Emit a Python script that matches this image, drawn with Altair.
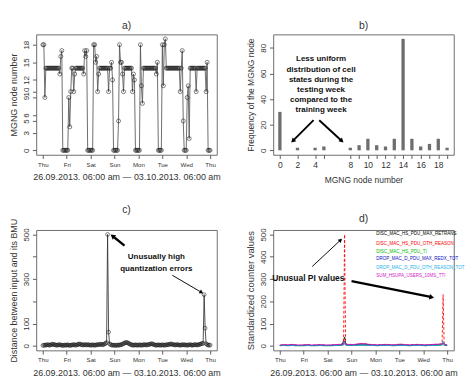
import json, math
import altair as alt
import pandas as pd

FONT = "Liberation Sans"
DAYS = ["Thu", "Fri", "Sat", "Sun", "Mon", "Tue", "Wed", "Thu"]
DAY_TICKS = [0, 24, 48, 72, 96, 120, 144, 168]
DATE_TITLE = "26.09.2013. 06:00 am \u2014 03.10.2013. 06:00 am"
HOURS = list(range(169))
X_DOM = [-6.7, 174.7]
W, H = 192, 128

# a) MGNG node per hour
node_series = [
    18, 18, 9, 14, 14, 14, 14, 14, 14, 14, 14, 14, 14, 14, 14, 14, 14, 13, 16, 17, 0, 0, 0, 0,
    0, 0, 9, 4, 10, 14, 14, 10, 13, 14, 14, 14, 14, 14, 14, 14, 14, 13, 17, 16, 17, 0, 0, 0,
    0, 0, 0, 18, 18, 15, 16, 10, 13, 14, 14, 14, 14, 14, 14, 14, 14, 14, 10, 14, 14, 15, 12, 0,
    0, 0, 0, 0, 5, 18, 15, 15, 13, 10, 14, 14, 14, 14, 14, 14, 14, 14, 10, 13, 12, 0, 0, 0,
    0, 0, 18, 11, 8, 14, 14, 14, 14, 14, 14, 14, 14, 14, 14, 14, 14, 14, 13, 15, 0, 0, 0, 0,
    18, 11, 18, 19, 14, 14, 14, 14, 14, 14, 14, 14, 14, 14, 14, 14, 14, 14, 10, 14, 17, 5, 0, 0,
    0, 9, 11, 2, 14, 14, 14, 14, 14, 14, 10, 14, 14, 14, 14, 14, 14, 14, 14, 14, 10, 15, 0, 0,
    0,
]
A_YTICKS = [0, 3, 5, 6, 9, 10, 12, 15, 18]

# b) frequency of nodes
nodes = [0, 2, 4, 5, 8, 9, 10, 11, 12, 13, 14, 15, 16, 17, 18, 19]
node_freq = [30, 2, 2, 3, 2, 4, 9, 4, 3, 9, 87, 9, 3, 5, 9, 2]
B_LABELS_SHOWN = [0, 2, 4, 8, 10, 12, 14, 16, 18]
B_YTICKS = [0, 20, 40, 60, 80]
B_NOTE = "Less uniform\ndistribution of cell\nstates during the\ntesting week\ncompared to the\ntraining week"
B_NOTE_X, B_NOTE_Y = 4.68, 74.5
B_AR_X1 = [3.83, 4.47]
B_AR_Y1 = [23.5, 23.5]
B_AR_X2 = [1.47, 7.04]
B_AR_Y2 = [7.3, 7.3]
B_AR_W = [2.0, 2.0]

# c) distance to BMU per hour
bmu_dist = [
    2, 3, 4, 3, 5, 6, 4, 3, 5, 7, 8, 6, 5, 4, 3, 4, 5, 6, 4, 3, 2, 3, 4, 3,
    4, 5, 3, 2, 3, 4, 5, 6, 4, 3, 5, 6, 8, 9, 7, 5, 4, 5, 6, 5, 4, 6, 5, 4,
    3, 4, 5, 4, 3, 4, 5, 6, 5, 7, 8, 6, 5, 7, 9, 12, 15, 500, 62, 10, 6, 4, 3, 4,
    3, 2, 3, 4, 3, 4, 5, 6, 8, 10, 13, 15, 16, 14, 12, 9, 7, 5, 4, 3, 4, 5, 4, 3,
    4, 5, 4, 3, 4, 5, 6, 5, 4, 5, 6, 7, 8, 10, 9, 7, 5, 4, 3, 4, 5, 4, 3, 4,
    5, 4, 3, 4, 5, 6, 5, 7, 8, 9, 7, 6, 5, 4, 5, 6, 5, 4, 3, 4, 5, 6, 4, 5,
    4, 3, 4, 5, 6, 4, 3, 4, 5, 6, 5, 4, 5, 6, 8, 9, 11, 12, 230, 80, 10, 6, 4, 3,
    4,
]
C_YTICKS = [0, 100, 200, 300, 400, 500]
C_YLABELS = [0, 100, 300, 500]
C_NOTE = "Unusually high\nquantization errors"
C_NOTE_X, C_NOTE_Y = 114, 418
C_AR_X1 = [82, 130]
C_AR_Y1 = [450, 317]
C_AR_X2 = [70, 159.4]
C_AR_Y2 = [493, 240]
C_AR_W = [2.5, 1.0]

# d) standardized counters
d_hours = [0, 4, 8, 12, 16, 20, 24, 28, 32, 36, 40, 44, 48, 52, 56, 60,
           63, 64, 65, 66, 67,
           70, 74, 78, 82, 86, 90, 94, 98, 102, 106, 110, 114, 118, 122, 126, 130, 134, 138, 142, 146, 150, 154, 158,
           162, 163, 164, 165, 166, 168]
pi_names = ["DISC_MAC_HS_PDU_MAX_RETRANS", "DISC_MAC_HS_PDU_OTH_REASON", "DISC_MAC_HS_PDU_TI",
            "DROP_MAC_D_PDU_MAX_REDX_TOT", "DROP_MAC_D_PDU_OTH_REASON_TOT", "SUM_HSUPA_USERS_10MS_TTI"]
pi_colors = ["#000000", "#ff0000", "#00c000", "#1010c0", "#20b0e8", "#d020c8"]
pi_dash = [[1, 0], [3, 2], [1, 0], [1, 0], [1, 0], [1, 0]]
pi_black = [2, 4, 3, 5, 3, 2, 3, 4, 2, 3, 4, 3, 2, 3, 4, 5, 10, 25, 40, 15, 6,
            5, 4, 7, 9, 8, 5, 4, 3, 4, 5, 4, 3, 5, 6, 4, 3, 4, 5, 4, 3, 4, 5, 6, 8, 12, 16, 10, 6, 3]
pi_red = [3, 5, 4, 6, 4, 3, 4, 5, 3, 4, 5, 4, 3, 4, 5, 6, 8, 10, 500, 12, 8,
          6, 5, 8, 10, 9, 6, 5, 4, 5, 6, 5, 4, 6, 7, 5, 4, 5, 6, 5, 4, 5, 6, 7, 8, 10, 230, 12, 8, 4]
pi_green = [1, 2, 1, 2, 1, 1, 1, 2, 1, 1, 2, 1, 1, 1, 2, 2, 3, 5, 8, 4, 2,
            2, 2, 3, 3, 3, 2, 2, 1, 2, 2, 2, 1, 2, 3, 2, 1, 2, 2, 2, 1, 2, 2, 3, 3, 4, 6, 3, 2, 1]
pi_blue = [2, 3, 2, 3, 2, 2, 2, 3, 2, 2, 3, 2, 2, 2, 3, 3, 5, 12, 20, 8, 4,
           3, 3, 4, 5, 5, 3, 3, 2, 3, 3, 3, 2, 3, 4, 3, 2, 3, 3, 3, 2, 3, 3, 4, 5, 8, 12, 6, 3, 2]
pi_cyan = [1, 2, 1, 2, 1, 1, 1, 2, 1, 1, 2, 1, 1, 1, 2, 2, 4, 8, 15, 6, 3,
           2, 2, 3, 4, 4, 2, 2, 1, 2, 2, 2, 1, 2, 3, 2, 1, 2, 2, 2, 1, 2, 2, 3, 6, 12, 20, 8, 4, 2]
pi_magenta = [3, 6, 5, 7, 5, 4, 5, 6, 4, 5, 6, 5, 4, 5, 6, 7, 6, 8, 10, 8, 6,
              7, 6, 9, 11, 10, 7, 6, 5, 6, 7, 6, 5, 7, 8, 6, 5, 6, 7, 6, 5, 6, 7, 8, 8, 9, 10, 8, 6, 5]
D_YTICKS = [0, 100, 200, 300, 400, 500]
D_NOTE = "Unusual PI values"
D_NOTE_X, D_NOTE_Y = 28.6, 304
D_AR_X1 = [32.4, 72]
D_AR_Y1 = [356, 291]
D_AR_X2 = [61, 152.6]
D_AR_Y2 = [475, 218.5]
D_AR_W = [1.0, 2.5]
D_LEG_X = 96.8
D_LEG_Y = [500, 457, 423, 390, 351, 312]

Y_DOM_AB = {"a": [-0.76, 19.76], "b": [-3.48, 90.48]}
Y_DOM_CD = [-20, 520]
B_X_DOM = [-0.76, 19.76]


def arrows(x1, y1, x2, y2, wid, xdom, ydom, w, h, xf, yf):
    sx = w / (xdom[1] - xdom[0])
    sy = h / (ydom[1] - ydom[0])
    rows = []
    for a, b, c, d, sw in zip(x1, y1, x2, y2, wid):
        dx = (c - a) * sx
        dys = -(d - b) * sy
        ang = math.degrees(math.atan2(dx, -dys)) % 360
        rows.append({xf: a, yf: b, xf + "2": c, yf + "2": d, "sw": sw, "ang": ang, "hs": 14 + 8 * sw})
    return pd.DataFrame(rows)


def arrow_layers(df, xenc, yenc, xf, yf):
    shaft = alt.Chart(df).mark_rule(color="black").encode(
        x=xenc(xf), y=yenc(yf), x2=alt.X2(xf + "2:Q"), y2=alt.Y2(yf + "2:Q"),
        strokeWidth=alt.StrokeWidth("sw:Q", scale=None))
    head = alt.Chart(df).mark_point(shape="triangle-up", filled=True, color="black", opacity=1).encode(
        x=xenc(xf + "2"), y=yenc(yf + "2"),
        angle=alt.Angle("ang:Q", scale=None), size=alt.Size("hs:Q", scale=None))
    return shaft + head


day_expr = json.dumps(DAYS) + "[round(datum.value/24)]"


def time_x(field):
    return alt.X(field + ":Q", scale=alt.Scale(domain=X_DOM, nice=False, zero=False),
                 axis=alt.Axis(values=DAY_TICKS, labelExpr=day_expr, title=DATE_TITLE,
                               labelFontSize=6.5, titleFontSize=9.5, labelOverlap=False,
                               labelPadding=3, titlePadding=5))


# ---------- a ----------
def a_y(field):
    return alt.Y(field + ":Q", scale=alt.Scale(domain=Y_DOM_AB["a"], nice=False, zero=False),
                 axis=alt.Axis(values=A_YTICKS, title="MGNG node number", labelAngle=270,
                               labelOverlap=False, titleFontSize=9.5))


df_a = pd.DataFrame({"hour": HOURS, "node": node_series})
base_a = alt.Chart(df_a).encode(x=time_x("hour"), y=a_y("node"))
a = (base_a.mark_line(color="#555", strokeWidth=0.9)
     + base_a.mark_point(shape="circle", filled=False, color="#111", size=18, strokeWidth=0.8)
     ).properties(width=W, height=H, title="a)")


# ---------- b ----------
def b_x(field):
    return alt.X(field + ":Q", scale=alt.Scale(domain=B_X_DOM, nice=False, zero=False),
                 axis=alt.Axis(values=nodes, title="MGNG node number", labelOverlap=False,
                               labelExpr="indexof(" + json.dumps(B_LABELS_SHOWN) + ", datum.value) >= 0 ? datum.label : ''",
                               labelFontSize=9, titleFontSize=9, labelPadding=3, titlePadding=7))


def b_y(field):
    return alt.Y(field + ":Q", scale=alt.Scale(domain=Y_DOM_AB["b"], nice=False, zero=False),
                 axis=alt.Axis(values=B_YTICKS, title="Frequency of the MGNG node", labelAngle=270,
                               labelOverlap=False, titleFontSize=9))


df_b = pd.DataFrame({"node": nodes, "freq": node_freq})
bars = alt.Chart(df_b).mark_rule(color="#6e6e6e", strokeWidth=3.5, strokeCap="butt").encode(
    x=b_x("node"), y=b_y("freq"), y2=alt.datum(0))
b_note = alt.Chart(pd.DataFrame({"node": [B_NOTE_X], "freq": [B_NOTE_Y], "t": [B_NOTE]})).mark_text(
    lineBreak="\n", fontWeight="bold", fontSize=8.5, lineHeight=10.8, baseline="top", align="center",
    font=FONT, color="#111").encode(x=b_x("node"), y=b_y("freq"), text="t:N")
b_arr = arrow_layers(arrows(B_AR_X1, B_AR_Y1, B_AR_X2, B_AR_Y2, B_AR_W, B_X_DOM, Y_DOM_AB["b"], W, H, "node", "freq"),
                     b_x, b_y, "node", "freq")
b = (bars + b_note + b_arr).properties(width=W, height=H, title="b)")


# ---------- c ----------
def c_y(field):
    return alt.Y(field + ":Q", scale=alt.Scale(domain=Y_DOM_CD, nice=False, zero=False),
                 axis=alt.Axis(values=C_YTICKS, title="Distance between input and its BMU", labelAngle=270,
                               labelOverlap=False, titleFontSize=9.5,
                               labelExpr="indexof(" + json.dumps(C_YLABELS) + ", datum.value) >= 0 ? datum.label : ''"))


df_c = pd.DataFrame({"hour": HOURS, "dist": bmu_dist})
base_c = alt.Chart(df_c).encode(x=time_x("hour"), y=c_y("dist"))
c_note = alt.Chart(pd.DataFrame({"hour": [C_NOTE_X], "dist": [C_NOTE_Y], "t": [C_NOTE]})).mark_text(
    lineBreak="\n", fontWeight="bold", fontSize=8.5, lineHeight=12, baseline="top", align="center",
    font=FONT, color="#111").encode(x=time_x("hour"), y=c_y("dist"), text="t:N")
c_arr = arrow_layers(arrows(C_AR_X1, C_AR_Y1, C_AR_X2, C_AR_Y2, C_AR_W, X_DOM, Y_DOM_CD, W, H, "hour", "dist"),
                     time_x, c_y, "hour", "dist")
c = (base_c.mark_line(color="#333", strokeWidth=0.9)
     + base_c.mark_point(shape="circle", filled=False, color="#111", size=16, strokeWidth=0.8)
     + c_note + c_arr).properties(width=W, height=H, title="c)")


# ---------- d ----------
def d_y(field):
    return alt.Y(field + ":Q", scale=alt.Scale(domain=Y_DOM_CD, nice=False, zero=False),
                 axis=alt.Axis(values=D_YTICKS, title="Standardized counter values", labelAngle=270,
                               labelOverlap=False, titleFontSize=10))


pi_series = [pi_black, pi_red, pi_green, pi_blue, pi_cyan, pi_magenta]
rows = []
for name, vals in zip(pi_names, pi_series):
    for hh, v in zip(d_hours, vals):
        rows.append({"hour": hh, "value": v, "series": name})
df_d = pd.DataFrame(rows)
color_scale = alt.Scale(domain=pi_names, range=pi_colors)
d_lines = alt.Chart(df_d).mark_line(strokeWidth=0.9).encode(
    x=time_x("hour"), y=d_y("value"),
    color=alt.Color("series:N", scale=color_scale, legend=None),
    strokeDash=alt.StrokeDash("series:N", scale=alt.Scale(domain=pi_names, range=pi_dash), legend=None),
    order=alt.Order("hour:Q"))
df_leg = pd.DataFrame({"hour": [D_LEG_X] * len(pi_names), "value": D_LEG_Y, "series": pi_names})
d_leg = alt.Chart(df_leg).mark_text(align="left", baseline="middle", fontSize=4.8, font=FONT).encode(
    x=time_x("hour"), y=d_y("value"), text="series:N",
    color=alt.Color("series:N", scale=color_scale, legend=None))
d_note = alt.Chart(pd.DataFrame({"hour": [D_NOTE_X], "value": [D_NOTE_Y], "t": [D_NOTE]})).mark_text(
    fontWeight="bold", fontSize=9, baseline="middle", align="center", font=FONT, color="#111").encode(
    x=time_x("hour"), y=d_y("value"), text="t:N")
d_arr = arrow_layers(arrows(D_AR_X1, D_AR_Y1, D_AR_X2, D_AR_Y2, D_AR_W, X_DOM, Y_DOM_CD, W, H, "hour", "value"),
                     time_x, d_y, "hour", "value")
d = (d_lines + d_leg + d_note + d_arr).properties(width=W, height=H, title="d)")

chart = alt.concat(a, b, c, d, columns=2, spacing={"row": 18, "column": 25}).configure_axis(
    domain=False, grid=False, tickColor="#555", tickSize=4, labelColor="#333", titleColor="#333",
    labelFont=FONT, titleFont=FONT, titleFontWeight="normal", labelFontSize=8.5,
).configure_view(stroke="#666", strokeWidth=1).configure_title(
    font=FONT, fontSize=11, fontWeight="normal", anchor="middle", color="#333", offset=0
).properties(padding={"left": 0, "top": 0, "right": 0, "bottom": 0}, autosize={"type": "pad"})

chart.save("out.html", embed_options={"renderer": "svg", "actions": False})
